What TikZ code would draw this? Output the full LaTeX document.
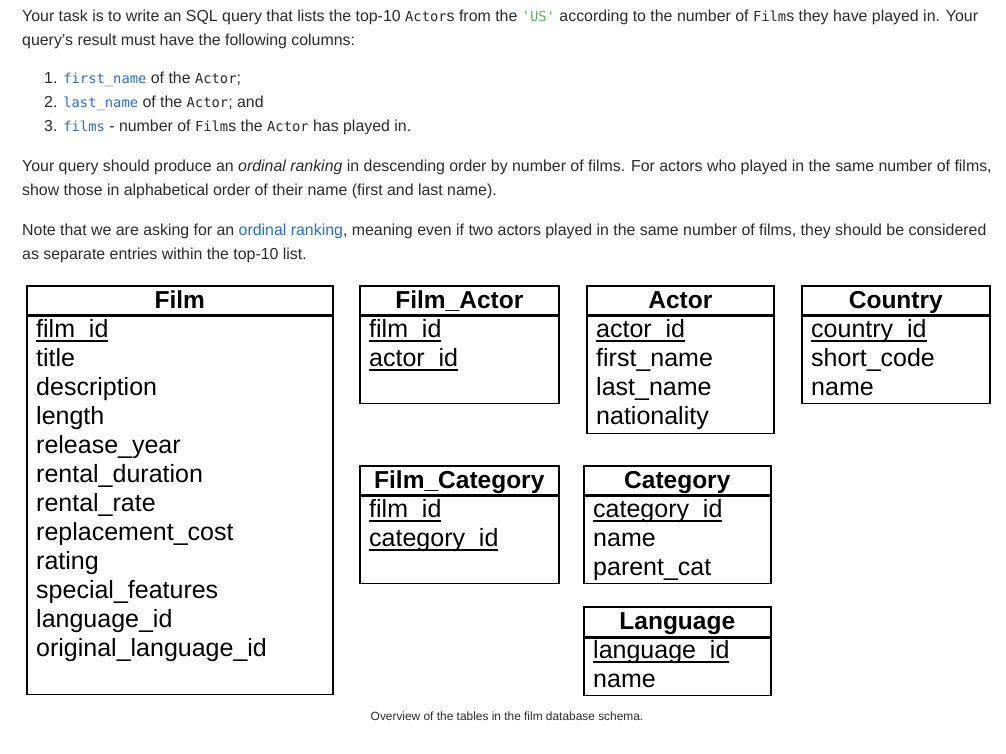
\documentclass[tikz,border=0pt]{standalone}
\usepackage{fontspec}
\setmainfont{Liberation Sans}
\newfontfamily\tblfont{Liberation Sans}
\newfontfamily\codefont{DejaVu Sans Mono}
\usetikzlibrary{positioning}
\usepackage{xcolor}

\definecolor{bodytext}{HTML}{2B2B2B}
\definecolor{codeblue}{HTML}{2F6FC4}
\definecolor{codegreen}{HTML}{5CB85C}
\definecolor{linkblue}{HTML}{2A6EC0}

\newcommand\sqlcode[1]{{\codefont\fontsize{13.8}{16}\selectfont #1}}
\newcommand\sqlfield[1]{\textcolor{codeblue}{\sqlcode{#1}}}
\newcommand\sqlstr[1]{\textcolor{codegreen}{\sqlcode{#1}}}
\newcommand\pk[1]{\setbox0\hbox{#1}\rlap{\rule[-4.5pt]{\wd0}{1.8pt}}\box0}
% one column of table rows, baseline on the first row
\newcommand\tblcol[1]{\vtop{\let\\\cr\halign{##\hfil\cr#1\crcr}}}

\tikzset{
  para/.style={anchor=base west, inner sep=0pt, text=bodytext, font=\fontsize{15.9}{24}\selectfont},
  tblhead/.style={draw, line width=1.6pt, anchor=north west, inner sep=0pt, minimum height=29pt, text height=17pt, text depth=1pt, font=\tblfont\bfseries\fontsize{24.5}{29}\selectfont},
  tblbody/.style={draw, line width=1.6pt, anchor=north west, inner sep=0pt},
  tblrows/.style={anchor=base west, inner sep=0pt, font=\tblfont\fontsize{25}{29}\selectfont}
}

\begin{document}
\begin{tikzpicture}[x=1pt,y=-1pt]
    \useasboundingbox[fill=white] (0,0) rectangle (1006,753);

    % task text
    \node[para] (line1) at (22,21.5) {Your task is to write an SQL query that lists the top-10 \sqlcode{Actor}s from the \sqlstr{\textquotesingle US\textquotesingle} according to the number of \sqlcode{Film}s they have played in. Your};
    \node[para] (line2) at (22,45.5) {query's result must have the following columns:};

    % columns list
    \node[para] (item1) at (44,83.5) {1. \sqlfield{first\_name} of the \sqlcode{Actor};};
    \node[para] (item2) at (44,107.5) {2. \sqlfield{last\_name} of the \sqlcode{Actor}; and};
    \node[para] (item3) at (44,131.5) {3. \sqlfield{films} - number of \sqlcode{Film}s the \sqlcode{Actor} has played in.};

    % ranking text
    \node[para] (rank1) at (22,171.5) {Your query should produce an \textit{ordinal ranking} in descending order by number of films. For actors who played in the same number of films,};
    \node[para] (rank2) at (22,195.5) {show those in alphabetical order of their name (first and last name).};
    \node[para] (note1) at (22,235.5) {Note that we are asking for an \textcolor{linkblue}{ordinal ranking}, meaning even if two actors played in the same number of films, they should be considered};
    \node[para] (note2) at (22,259.5) {as separate entries within the top-10 list.};

    % Film
    \node[tblhead, minimum width=306pt] (film) at (26,285) {Film};
    \node[tblbody, minimum width=306pt, minimum height=378pt] (filmbody) at (film.south west) {};
    \node[tblrows] (filmrows) at ([xshift=10pt,yshift=-21.5pt]filmbody.north west)
        {\tblcol{\pk{film\_id}\\ title\\ description\\ length\\ release\_year\\ rental\_duration\\ rental\_rate\\ replacement\_cost\\ rating\\ special\_features\\ language\_id\\ original\_language\_id}};

    % Film_Actor
    \node[tblhead, minimum width=199pt] (filmactor) at (359,285) {Film\_Actor};
    \node[tblbody, minimum width=199pt, minimum height=87pt] (filmactorbody) at (filmactor.south west) {};
    \node[tblrows] (filmactorrows) at ([xshift=10pt,yshift=-21.5pt]filmactorbody.north west)
        {\tblcol{\pk{film\_id}\\ \pk{actor\_id}}};

    % Actor
    \node[tblhead, minimum width=187pt] (actor) at (586,285) {Actor};
    \node[tblbody, minimum width=187pt, minimum height=117pt] (actorbody) at (actor.south west) {};
    \node[tblrows] (actorrows) at ([xshift=10pt,yshift=-21.5pt]actorbody.north west)
        {\tblcol{\pk{actor\_id}\\ first\_name\\ last\_name\\ nationality}};

    % Country
    \node[tblhead, minimum width=188pt] (country) at (801,285) {Country};
    \node[tblbody, minimum width=188pt, minimum height=87pt] (countrybody) at (country.south west) {};
    \node[tblrows] (countryrows) at ([xshift=10pt,yshift=-21.5pt]countrybody.north west)
        {\tblcol{\pk{country\_id}\\ short\_code\\ name}};

    % Film_Category
    \node[tblhead, minimum width=199pt] (filmcat) at (359,465) {Film\_Category};
    \node[tblbody, minimum width=199pt, minimum height=87pt] (filmcatbody) at (filmcat.south west) {};
    \node[tblrows] (filmcatrows) at ([xshift=10pt,yshift=-21.5pt]filmcatbody.north west)
        {\tblcol{\pk{film\_id}\\ \pk{category\_id}}};

    % Category
    \node[tblhead, minimum width=187pt] (category) at (583,465) {Category};
    \node[tblbody, minimum width=187pt, minimum height=87pt] (categorybody) at (category.south west) {};
    \node[tblrows] (categoryrows) at ([xshift=10pt,yshift=-21.5pt]categorybody.north west)
        {\tblcol{\pk{category\_id}\\ name\\ parent\_cat}};

    % Language
    \node[tblhead, minimum width=187pt, minimum height=30pt] (language) at (583,606) {Language};
    \node[tblbody, minimum width=187pt, minimum height=57pt] (languagebody) at (language.south west) {};
    \node[tblrows] (languagerows) at ([xshift=10pt,yshift=-20.5pt]languagebody.north west)
        {\tblcol{\pk{language\_id}\\ name}};

    % caption
    \node[anchor=base, inner sep=0pt, text=bodytext, font=\fontsize{11.9}{14}\selectfont] (caption) at (507,720)
        {Overview of the tables in the film database schema.};
\end{tikzpicture}
\end{document}
